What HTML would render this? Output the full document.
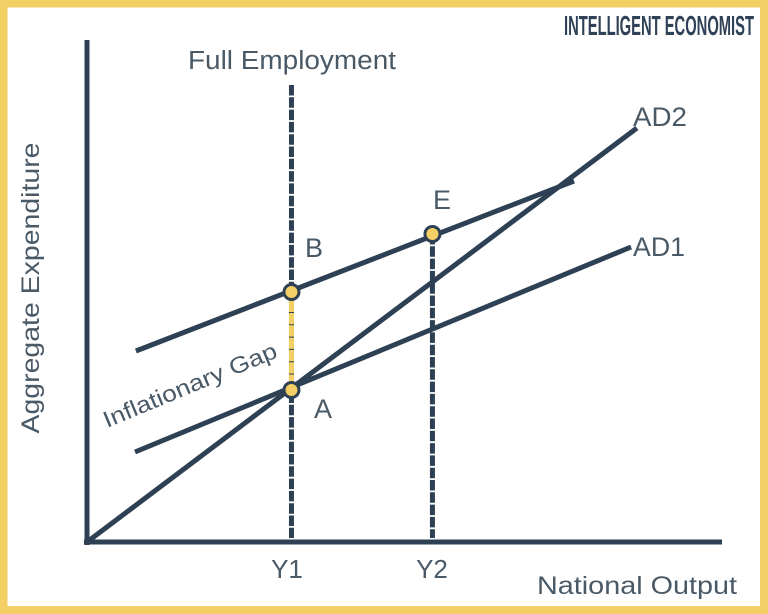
<!DOCTYPE html>
<html>
<head>
<meta charset="utf-8">
<style>
html,body{margin:0;padding:0;background:#fff}
svg{display:block}
text{font-family:"Liberation Sans",sans-serif;fill:#4a5966}
</style>
</head>
<body>
<svg id="chart" width="768" height="614" viewBox="0 0 768 614" xmlns="http://www.w3.org/2000/svg">
  <rect x="0" y="0" width="768" height="614" fill="#f3cf65"/>
  <rect x="7.5" y="7.5" width="752.5" height="598.5" fill="#fff"/>
  <text x="754" y="35" text-anchor="end" font-size="27.5" font-weight="700" textLength="190" lengthAdjust="spacingAndGlyphs" style="fill:#2f4156">INTELLIGENT ECONOMIST</text>
  <g id="marks"></g>
  <text x="292" y="69" text-anchor="middle" font-size="25.5" textLength="208" lengthAdjust="spacingAndGlyphs">Full Employment</text>
  <text transform="translate(39 288) rotate(-90)" text-anchor="middle" font-size="25" textLength="291" lengthAdjust="spacingAndGlyphs">Aggregate Expenditure</text>
  <text x="737" y="594" text-anchor="end" font-size="25" textLength="200" lengthAdjust="spacingAndGlyphs">National Output</text>
  <text transform="translate(107 428) rotate(-22.5)" font-size="23" textLength="186" lengthAdjust="spacingAndGlyphs">Inflationary Gap</text>
  <text x="287" y="578" text-anchor="middle" font-size="26">Y1</text>
  <text x="432" y="578" text-anchor="middle" font-size="26">Y2</text>
  <text x="633" y="126" font-size="27" textLength="54" lengthAdjust="spacingAndGlyphs">AD2</text>
  <text x="633" y="256" font-size="27" textLength="52" lengthAdjust="spacingAndGlyphs">AD1</text>
  <text x="314" y="257" text-anchor="middle" font-size="27">B</text>
  <text x="323" y="418" text-anchor="middle" font-size="27">A</text>
  <text x="442" y="209" text-anchor="middle" font-size="27">E</text>
</svg>
<script>
var ad1X = [7.56, 85.67];
var ad1Y = [18, 59];
var ad2X = [0, 86.6];
var ad2Y = [0, 82.8];
var adUpperX = [7.7, 76.7];
var adUpperY = [38.2, 72.2];
var y1Level = 32.2;
var y2Level = 54.4;
var fullEmploymentTop = 91.4;
var pointNames = ['a', 'b', 'e'];
var pointX = [32.2, 32.2, 54.4];
var pointY = [30.4, 50, 61.6];

var NS = 'http://www.w3.org/2000/svg';
var marks = document.getElementById('marks');
var DARK = '#2e4053';
var GOLD = '#f3cf65';
function xScale(v) { return 87 + v * 6.35; }
function yScale(v) { return 542 - v * 5; }
function addLine(name, x1, y1, x2, y2, color, width, dash) {
  var el = document.createElementNS(NS, 'line');
  el.setAttribute('x1', x1);
  el.setAttribute('y1', y1);
  el.setAttribute('x2', x2);
  el.setAttribute('y2', y2);
  el.setAttribute('stroke', color);
  el.setAttribute('stroke-width', width);
  if (dash) el.setAttribute('stroke-dasharray', dash);
  
  
  marks.appendChild(el);
}
var yA = yScale(pointY[0]);
var yB = yScale(pointY[1]);
var yE = yScale(pointY[2]);
var x0 = yScale(0);
addLine('full-employment-line', xScale(y1Level), yScale(fullEmploymentTop), xScale(y1Level), x0 - 4, DARK, 5, '10.5 1.8');
addLine('inflationary-gap-segment', xScale(y1Level), yB, xScale(y1Level), yA, GOLD, 5);
addLine('inflationary-gap-ticks', xScale(y1Level), yB + 20, xScale(y1Level), yA - 8, DARK, 5, '1 11.3');
addLine('y2-dashed-line', xScale(y2Level), yE, xScale(y2Level), x0 - 4, DARK, 5, '10.5 1.8');
addLine('y-axis', 87, 40, 87, 545, DARK, 5);
addLine('x-axis', 84, 542, 722, 542, DARK, 5);
addLine('ad1-line', xScale(ad1X[0]), yScale(ad1Y[0]), xScale(ad1X[1]), yScale(ad1Y[1]), DARK, 5);
addLine('ad2-line', xScale(ad2X[0]), yScale(ad2Y[0]), xScale(ad2X[1]), yScale(ad2Y[1]), DARK, 5);
addLine('upper-ad-line', xScale(adUpperX[0]), yScale(adUpperY[0]), xScale(adUpperX[1]), yScale(adUpperY[1]), DARK, 5);
pointX.forEach(function (v, i) {
  var c = document.createElementNS(NS, 'circle');
  c.setAttribute('cx', xScale(v));
  c.setAttribute('cy', yScale(pointY[i]));
  c.setAttribute('r', 7.5);
  c.setAttribute('fill', GOLD);
  c.setAttribute('stroke', DARK);
  c.setAttribute('stroke-width', 3);
  
  
  marks.appendChild(c);
});
</script>
</body>
</html>
